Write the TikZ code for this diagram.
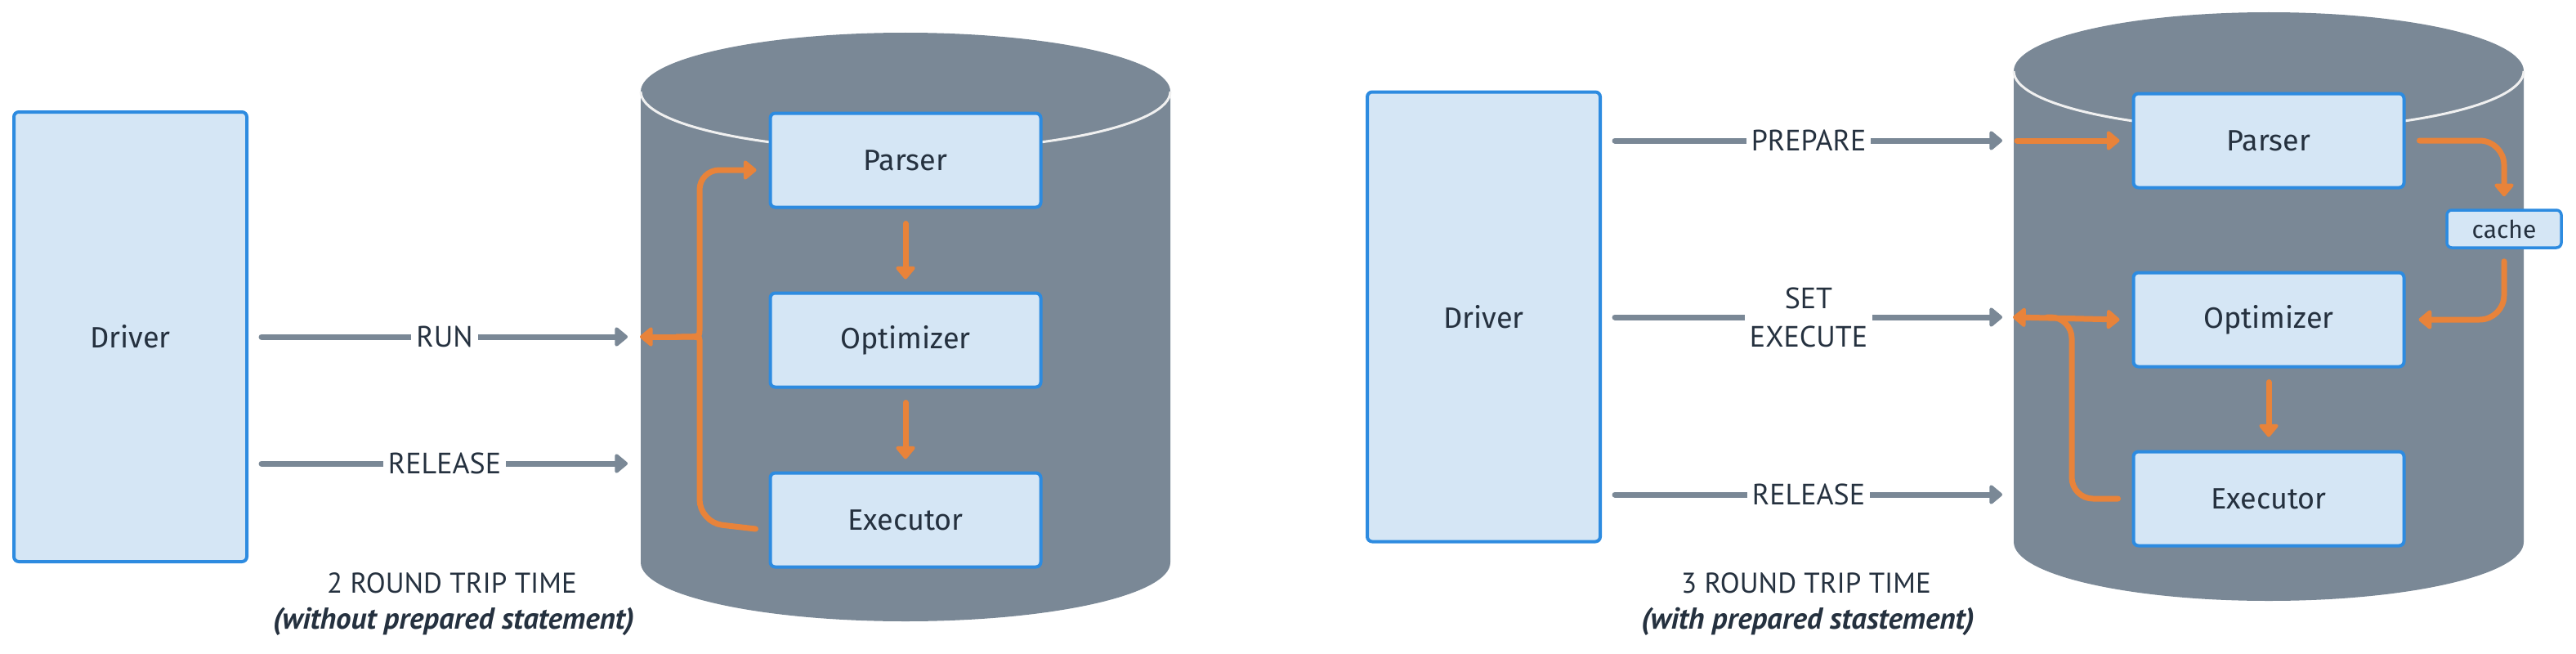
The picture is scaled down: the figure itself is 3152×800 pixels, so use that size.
\documentclass[tikz,border=0pt]{standalone}
\usepackage{fontspec}
\setmainfont{Fira Sans}
\newfontfamily\lblfont{PT Sans}
\usetikzlibrary{calc,arrows.meta,positioning}
\definecolor{drum}{HTML}{7A8896}
\definecolor{boxblue}{HTML}{2D8BE0}
\definecolor{boxfill}{HTML}{D5E6F5}
\definecolor{flame}{HTML}{E8833A}
\definecolor{ink}{HTML}{25313F}
\def\dbdrum(#1,#2,#3,#4,#5){%
	\fill[drum] (#1-#4,#2) -- (#1-#4,#3) arc[start angle=180,end angle=360,x radius=#4pt,y radius=#5pt] -- (#1+#4,#2) arc[start angle=0,end angle=180,x radius=#4pt,y radius=#5pt] -- cycle;
	\draw[white!88!gray, line width=3pt] (#1-#4,#2) arc[start angle=180,end angle=360,x radius=#4pt,y radius=#5pt];}
\tikzset{
	>={Triangle[length=17pt,width=27pt,round]},
	box/.style={draw=boxblue, fill=boxfill, line width=4pt, rounded corners=6pt, minimum width=331pt, minimum height=115pt, text=ink, font=\fontsize{36}{40}\selectfont},
	drv/.style={box, minimum width=285pt, minimum height=550pt},
	tag/.style={box, line width=3.5pt, minimum width=140pt, minimum height=46pt, font=\fontsize{30}{32}\selectfont},
	call/.style={draw=drum, line width=7pt, line cap=round, ->},
	flow/.style={draw=flame, line width=7pt, line cap=round, ->},
	lbl/.style={fill=white, text=ink, inner sep=6pt, align=center, font=\lblfont\fontsize{36}{47}\selectfont},
	capt/.style={text=ink, font=\lblfont\fontsize{35}{38}\selectfont},
	subcapt/.style={text=ink, font=\lblfont\bfseries\itshape\fontsize{37}{40}\selectfont},
}

\begin{document}
\begin{tikzpicture}[x=1pt, y=-1pt]
		%%%%% START %%%%%
		\useasboundingbox (0,0) rectangle (3152,800);
		
		% without prepared statement
		\dbdrum(1108,112,688,324,72)
		
		\node[drv] (drv1) at (159.5,412) {Driver};
		\node[box] (par1) at (1108,196) {Parser};
		\node[box, below=101pt of par1] (opt1) {Optimizer};
		\node[box, below=101pt of opt1] (exe1) {Executor};
		
		\coordinate (run1) at (768,412);
		\coordinate (rel1) at (768,567);
		\draw[call] ($(drv1.east)+(16,0)$) -- node[lbl] {RUN} (run1);
		\draw[call] ($(drv1.east |- rel1)+(16,0)$) -- node[lbl] {RELEASE} (rel1);
		
		\draw[flow] ($(par1.south)+(0,18)$) -- ($(opt1.north)+(0,-15)$);
		\draw[flow] ($(opt1.south)+(0,17)$) -- ($(exe1.north)+(0,-15)$);
		
		\coordinate (j1) at (828,412);
		\coordinate (ret1) at (783,412);
		\draw[flow] (j1) -- (ret1);
		\draw[flow, rounded corners=24pt] (j1) .. controls (856,412) .. (856,380) -- (856,208) -- ($(par1.west)+(-15,12)$);
		\draw[flow, -, rounded corners=28pt] (j1) .. controls (856,412) .. (856,444) -- (856,639) -- ($(exe1.west)+(-16,11)$);
		
		\node[capt] (cap1) at (553,713) {2 ROUND TRIP TIME};
		\node[subcapt] (sub1) at (555,760) {(without prepared statement)};
		
		% with prepared statement
		\dbdrum(2776,87,663,312,72)
		
		\node[drv] (drv2) at (1815.5,387.5) {Driver};
		\node[box] (par2) at (2776,172) {Parser};
		\node[box, below=100pt of par2] (opt2) {Optimizer};
		\node[box, below=100pt of opt2] (exe2) {Executor};
		\node[tag] (cache) at (3064,280) {cache};
		
		\coordinate (prep2) at (2450,172);
		\coordinate (exec2) at (2450,388);
		\coordinate (rel2) at (2450,605);
		\draw[call] ($(drv2.east |- prep2)+(16,0)$) -- node[lbl] {PREPARE} (prep2);
		\draw[call] ($(drv2.east |- exec2)+(16,0)$) -- node[lbl] {SET\\EXECUTE} (exec2);
		\draw[call] ($(drv2.east |- rel2)+(16,0)$) -- node[lbl] {RELEASE} (rel2);
		
		\coordinate (in2) at (2468,172);
		\coordinate (ret2) at (2463,388);
		\coordinate (j2) at (2505,388);
		\draw[flow] (in2) -- ($(par2.west)+(-15,0)$);
		\draw[flow, rounded corners=30pt] ($(par2.east)+(17,0)$) -| ($(cache.north)+(0,-15)$);
		\draw[flow, rounded corners=30pt] ($(cache.south)+(0,15)$) |- ($(opt2.east)+(16,0)$);
		\draw[flow, <->] (ret2) -- ($(opt2.west)+(-15,0)$);
		\draw[flow, -, rounded corners=26pt] ($(exe2.west)+(-17,0)$) -| (2535,388) -- (j2);
		\draw[flow] ($(opt2.south)+(0,17)$) -- ($(exe2.north)+(0,-16)$);
		
		\node[capt] (cap2) at (2210,713) {3 ROUND TRIP TIME};
		\node[subcapt] (sub2) at (2212,760) {(with prepared stastement)};
		
		%%%%% END %%%%%
	\end{tikzpicture}
\end{document}
